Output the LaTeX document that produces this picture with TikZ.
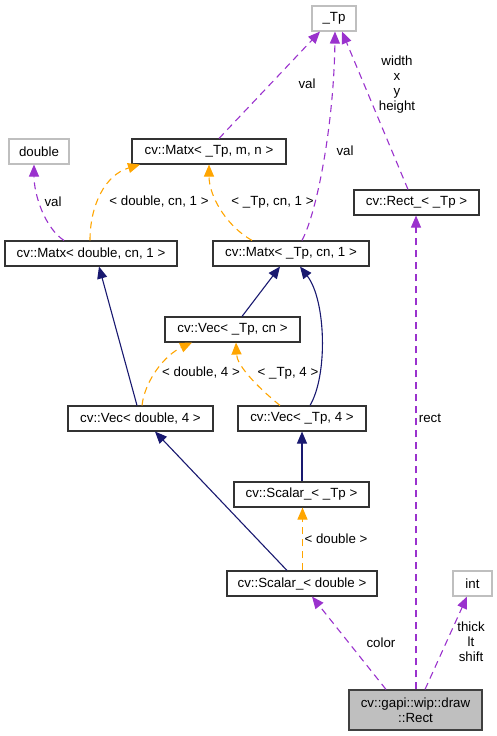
\documentclass[tikz,border=0pt]{standalone}
\usepackage{fontspec}
\setmainfont{Liberation Sans}
\usetikzlibrary{arrows.meta}
\definecolor{inh}{HTML}{191970}
\definecolor{tmpl}{HTML}{FFA500}
\definecolor{usage}{HTML}{9A32CD}
\definecolor{greyb}{HTML}{BFBFBF}
\begin{document}
\begin{tikzpicture}[x=1pt,y=-1pt,
  every node/.style={font=\fontsize{13.3}{15}\selectfont},
  cls/.style={draw=black!80,line width=1.1pt,fill=white,inner sep=0pt,minimum height=25pt,align=center},
  ext/.style={draw=greyb,line width=1.1pt,fill=white,inner sep=0pt,minimum height=25pt},
  cur/.style={draw=black!75,line width=1.1pt,fill=greyb,inner sep=0pt,minimum height=40pt,align=center,font=\fontsize{13.3}{14.5}\selectfont},
  tip/.style={-{Triangle[length=12pt,width=10pt]}},
  inhedge/.style={tip,draw=inh,line width=1.1pt},
  tmpedge/.style={tip,draw=tmpl,line width=1.1pt,dash pattern=on 7pt off 5pt},
  useedge/.style={tip,draw=usage,line width=1.1pt,dash pattern=on 7pt off 5pt},
  lbl/.style={inner sep=0pt,align=center}]
\useasboundingbox (0,0) rectangle (497,736);
% nodes
\node[ext,minimum width=44pt] (tp) at (334,18.5) {\_Tp};
\node[ext,minimum width=60pt] (dbl) at (39,151.5) {double};
\node[cls,minimum width=154pt] (mtpmn) at (209,151.5) {cv::Matx< \_Tp, m, n >};
\node[cls,minimum width=172pt] (mdcn) at (91,253.5) {cv::Matx< double, cn, 1 >};
\node[cls,minimum width=156pt] (mtpcn) at (291,253.5) {cv::Matx< \_Tp, cn, 1 >};
\node[cls,minimum width=125pt] (rectt) at (416.5,202.5) {cv::Rect\_< \_Tp >};
\node[cls,minimum width=135pt] (vtpcn) at (232.5,329.5) {cv::Vec< \_Tp, cn >};
\node[cls,minimum width=145pt] (vd4) at (140.5,418.5) {cv::Vec< double, 4 >};
\node[cls,minimum width=128pt] (vtp4) at (302,418.5) {cv::Vec< \_Tp, 4 >};
\node[cls,minimum width=135pt] (sctp) at (301.5,494.5) {cv::Scalar\_< \_Tp >};
\node[cls,minimum width=150pt] (scd) at (302,583.5) {cv::Scalar\_< double >};
\node[ext,minimum width=39pt] (int) at (472.5,583.5) {int};
\node[cur,minimum width=133pt] (rect) at (415.5,710) {cv::gapi::wip::draw\\::Rect};
% edges
\draw[useedge] ([xshift=10]mtpmn.north) -- ([xshift=-14]tp.south);
\draw[useedge] ([xshift=11]mtpcn.north) .. controls (318,210) and (334,120) .. ([xshift=1]tp.south);
\draw[useedge] ([xshift=-8.5]rectt.north) -- ([xshift=8]tp.south);
\draw[useedge] ([xshift=-27]mdcn.north) .. controls (45,228) and (34,195) .. ([xshift=-5]dbl.south);
\draw[tmpedge] ([xshift=-1]mdcn.north) .. controls (90,205) and (105,175) .. ([xshift=-69]mtpmn.south);
\draw[tmpedge] ([xshift=-39]mtpcn.north) .. controls (225,225) and (209,195) .. (mtpmn.south);
\draw[inhedge] ([xshift=9.5]vtpcn.north) -- ([xshift=-11]mtpcn.south);
\draw[inhedge] ([xshift=8]vtp4.north) .. controls (328,375) and (326,300) .. ([xshift=9]mtpcn.south);
\draw[inhedge] ([xshift=-3.5]vd4.north) -- ([xshift=8]mdcn.south);
\draw[tmpedge] ([xshift=1.5]vd4.north) .. controls (145,380) and (165,355) .. ([xshift=-40.5]vtpcn.south);
\draw[tmpedge] ([xshift=-22]vtp4.north) .. controls (255,385) and (237,365) .. ([xshift=3.5]vtpcn.south);
\draw[inhedge] ([xshift=0.5]sctp.north) -- ([xshift=0.5]sctp.north |- vtp4.south);
\draw[inhedge] ([xshift=-15]scd.north) -- ([xshift=14.5]vd4.south);
\draw[tmpedge] ([xshift=0.5]scd.north) -- ([xshift=0.5]scd.north |- sctp.south);
\draw[useedge] ([xshift=-29.5]rect.north) -- ([xshift=10]scd.south);
\draw[useedge] ([xshift=0.5]rect.north) -- ([xshift=0.5]rect.north |- rectt.south);
\draw[useedge] ([xshift=9.5]rect.north) -- ([xshift=-5.5]int.south);
% labels
\node[lbl] (l1) at (307,84) {val};
\node[lbl] (l2) at (345,151) {val};
\node[lbl] (l3) at (397,84.5) {width\\x\\y\\height};
\node[lbl] (l4) at (53,202) {val};
\node[lbl] (l5) at (159,202) {< double, cn, 1 >};
\node[lbl] (l6) at (272.5,202) {< \_Tp, cn, 1 >};
\node[lbl] (l7) at (201,373) {< double, 4 >};
\node[lbl] (l8) at (288,373) {< \_Tp, 4 >};
\node[lbl] (l9) at (336,539) {< double >};
\node[lbl] (l10) at (381,643) {color};
\node[lbl] (l11) at (430,418) {rect};
\node[lbl] (l12) at (471,642) {thick\\lt\\shift};
\end{tikzpicture}
\end{document}
